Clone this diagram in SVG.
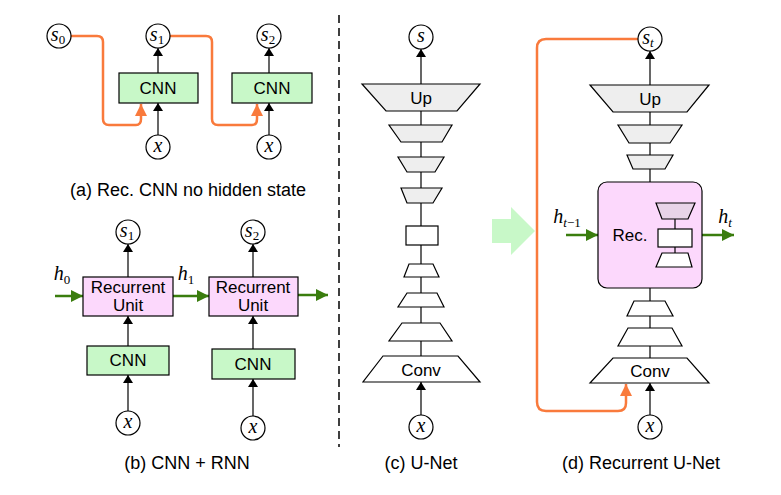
<svg xmlns="http://www.w3.org/2000/svg" width="781" height="495" viewBox="0 0 781 495">
<style>
.s{stroke:#000;stroke-width:1.2;fill:none}
.n{stroke:#000;stroke-width:1.2;fill:#fff}
.g{stroke:#000;stroke-width:1.2;fill:#eeeeee}
.cnn{stroke:#000;stroke-width:1.2;fill:#c8f8c8}
.ru{stroke:#000;stroke-width:1.2;fill:#fcd8fc}
.o{stroke:#f97a3c;stroke-width:2.5;fill:none}
.gr{stroke:#3a7d0e;stroke-width:2.5;fill:none}
.t{font-family:"Liberation Sans",Arial,sans-serif;font-size:17px;text-anchor:middle}
.cap{font-size:18px}
.m{font-family:"Liberation Serif","Times New Roman",serif;font-style:italic;font-size:20px;text-anchor:middle}
.sub{font-size:13px;font-style:normal}
.subi{font-size:13px}
</style>
<defs>
<marker id="ab" markerWidth="8" markerHeight="10" refX="8" refY="5" orient="auto" markerUnits="userSpaceOnUse"><path d="M0,0L8,5L0,10z" fill="#000"/></marker>
<marker id="ao" markerWidth="12" markerHeight="12" refX="12" refY="6" orient="auto" markerUnits="userSpaceOnUse"><path d="M0,0L12,6L0,12z" fill="#f97a3c"/></marker>
<marker id="ag" markerWidth="12" markerHeight="12" refX="12" refY="6" orient="auto" markerUnits="userSpaceOnUse"><path d="M0,0L12,6L0,12z" fill="#3a7d0e"/></marker>
</defs>

<g id="connectors">
<path class="s" d="M158,135V103" marker-end="url(#ab)"/>
<path class="s" d="M158,73V48" marker-end="url(#ab)"/>
<path class="s" d="M269,135V103" marker-end="url(#ab)"/>
<path class="s" d="M269,73V48" marker-end="url(#ab)"/>
<path class="o" d="M71,36H97Q103,36 103,42V119Q103,125 109,125H136Q141,125 141,119V104" marker-end="url(#ao)"/>
<path class="o" d="M170,36H206Q212,36 212,42V119Q212,125 218,125H252Q257,125 257,119V104" marker-end="url(#ao)"/>
<path class="s" d="M128,411V375" marker-end="url(#ab)"/>
<path class="s" d="M128,346V316" marker-end="url(#ab)"/>
<path class="s" d="M128,277V244" marker-end="url(#ab)"/>
<path class="s" d="M253,416V379" marker-end="url(#ab)"/>
<path class="s" d="M253,349V316" marker-end="url(#ab)"/>
<path class="s" d="M253,277V244" marker-end="url(#ab)"/>
<path class="gr" d="M55,296H83" marker-end="url(#ag)"/>
<path class="gr" d="M173,296H209" marker-end="url(#ag)"/>
<path class="gr" d="M298,295H328" marker-end="url(#ag)"/>
<path class="s" d="M421,415V382" marker-end="url(#ab)"/>
<path class="s" d="M421,356V111"/>
<path class="s" d="M421,84V49" marker-end="url(#ab)"/>
<path class="s" d="M650,415V383" marker-end="url(#ab)"/>
<path class="s" d="M650,358V288"/>
<path class="s" d="M650,182V112"/>
<path class="s" d="M650,85V51" marker-end="url(#ab)"/>
<path class="o" d="M638,39H546Q537,39 537,48V402Q537,411 546,411H618Q626,411 626,403V384" marker-end="url(#ao)"/>
<path class="gr" d="M566,235H598" marker-end="url(#ag)"/>
<path class="gr" d="M702,235H734" marker-end="url(#ag)"/>
</g>

<line x1="339" y1="15" x2="339" y2="447" stroke="#000" stroke-width="1.5" stroke-dasharray="8,5"/>
<path d="M492,219H511V207L535,231L511,255V243H492z" fill="#c8f8c8"/>

<g id="a-s0"><circle class="n" cx="59" cy="36" r="12"/><text class="m" x="58" y="41">s<tspan class="sub" dy="3">0</tspan></text></g>
<g id="a-s1"><circle class="n" cx="158" cy="36" r="12"/><text class="m" x="157" y="41">s<tspan class="sub" dy="3">1</tspan></text></g>
<g id="a-s2"><circle class="n" cx="269" cy="36" r="12"/><text class="m" x="268" y="41">s<tspan class="sub" dy="3">2</tspan></text></g>
<g id="a-cnn1"><rect class="cnn" x="119" y="73" width="79" height="30"/><text class="t" x="158" y="94">CNN</text></g>
<g id="a-cnn2"><rect class="cnn" x="232" y="73" width="80" height="30"/><text class="t" x="272" y="94">CNN</text></g>
<g id="a-x1"><circle class="n" cx="158" cy="147" r="12"/><text class="m" x="158" y="152">x</text></g>
<g id="a-x2"><circle class="n" cx="269" cy="147" r="12"/><text class="m" x="269" y="152">x</text></g>
<text class="t cap" x="188" y="196">(a) Rec. CNN no hidden state</text>

<g id="b-s1"><circle class="n" cx="128" cy="232" r="12"/><text class="m" x="127" y="237">s<tspan class="sub" dy="3">1</tspan></text></g>
<g id="b-s2"><circle class="n" cx="253" cy="232" r="12"/><text class="m" x="252" y="237">s<tspan class="sub" dy="3">2</tspan></text></g>
<g id="b-ru1"><rect class="ru" x="83" y="277" width="90" height="39"/><text class="t" x="128" y="293" font-size="14">Recurrent</text><text class="t" x="128" y="311" font-size="14">Unit</text></g>
<g id="b-ru2"><rect class="ru" x="209" y="277" width="89" height="39"/><text class="t" x="253" y="293" font-size="14">Recurrent</text><text class="t" x="253" y="311" font-size="14">Unit</text></g>
<g id="b-cnn1"><rect class="cnn" x="87" y="346" width="82" height="29"/><text class="t" x="128" y="366">CNN</text></g>
<g id="b-cnn2"><rect class="cnn" x="212" y="349" width="83" height="30"/><text class="t" x="253" y="370">CNN</text></g>
<g id="b-x1"><circle class="n" cx="128" cy="423" r="12"/><text class="m" x="128" y="428">x</text></g>
<g id="b-x2"><circle class="n" cx="253" cy="428" r="12"/><text class="m" x="253" y="433">x</text></g>
<text class="m" x="62" y="280" font-size="22">h<tspan class="sub" font-size="15" dy="4">0</tspan></text>
<text class="m" x="186" y="280" font-size="22">h<tspan class="sub" font-size="15" dy="4">1</tspan></text>
<text class="t cap" x="187" y="469">(b) CNN + RNN</text>

<g id="c-s"><circle class="n" cx="421" cy="37" r="12"/><text class="m" x="421" y="42">s</text></g>
<g id="c-up"><path class="g" d="M362,84H480L457,111H386z"/><text class="t" x="421" y="104">Up</text></g>
<path id="c-u2" class="g" d="M389,125H452L442,142H401z"/>
<path id="c-u3" class="g" d="M398,157H444L435,172H407z"/>
<path id="c-u4" class="g" d="M401,188H442L433,203H407z"/>
<rect id="c-mid" class="n" x="406" y="226" width="32" height="19"/>
<path id="c-d4" class="n" d="M409,264H433L439,277H404z"/>
<path id="c-d3" class="n" d="M407,293H437L444,307H398z"/>
<path id="c-d2" class="n" d="M402,323H440L452,341H389z"/>
<g id="c-conv"><path class="n" d="M383,356H458L480,382H363z"/><text class="t" x="421" y="376">Conv</text></g>
<g id="c-x"><circle class="n" cx="421" cy="427" r="12"/><text class="m" x="421" y="432">x</text></g>
<text class="t cap" x="421" y="469">(c) U-Net</text>

<g id="d-st"><circle class="n" cx="650" cy="39" r="12"/><text class="m" x="648" y="44">s<tspan class="subi" dy="3">t</tspan></text></g>
<g id="d-up"><path class="g" d="M590,85H709L687,112H613z"/><text class="t" x="650" y="105">Up</text></g>
<path id="d-u2" class="g" d="M618,125H682L670,143H629z"/>
<path id="d-u3" class="g" d="M627,155H673L665,169H633z"/>
<g id="d-rec">
<rect class="ru" x="598" y="182" width="104" height="106" rx="9"/>
<text class="t" x="630" y="241">Rec.</text>
<path class="s" d="M675,219V253"/>
<path d="M656,203H695L688,219H662z" fill="#e8d4e8" stroke="#000" stroke-width="1.2"/>
<rect class="n" x="658" y="229" width="34" height="18"/>
<path class="n" d="M662,253H688L692,267H656z"/>
</g>
<path id="d-d3" class="n" d="M634,301H665L673,316H627z"/>
<path id="d-d2" class="n" d="M628,328H672L682,346H618z"/>
<g id="d-conv"><path class="n" d="M613,358H687L709,383H590z"/><text class="t" x="650" y="377">Conv</text></g>
<g id="d-x"><circle class="n" cx="650" cy="427" r="12"/><text class="m" x="650" y="432">x</text></g>
<text class="m" x="567" y="223" font-size="22">h<tspan class="subi" font-size="15" dy="4">t</tspan><tspan class="sub" font-size="15">−1</tspan></text>
<text class="m" x="725" y="223" font-size="22">h<tspan class="subi" font-size="15" dy="4">t</tspan></text>
<text class="t cap" x="641" y="469">(d) Recurrent U-Net</text>
</svg>
